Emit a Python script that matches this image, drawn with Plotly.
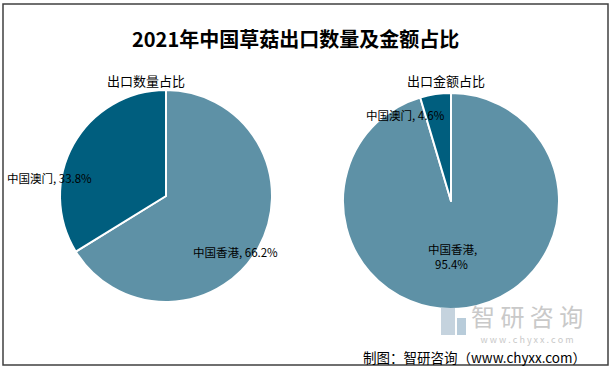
import plotly.graph_objects as go

W, H = 613, 370

categories = ["中国香港", "中国澳门"]
quantity_share = [66.2, 33.8]
amount_share = [95.4, 4.6]
chart_title = "2021年中国草菇出口数量及金额占比"
sub_titles = ["出口数量占比", "出口金额占比"]
source_text = "制图：智研咨询（www.chyxx.com）"

colors = ["#5E91A6", "#005E7E"]
FONT = "Noto Sans CJK SC"


def px(x):
    return x / W


def py(y):
    return 1 - y / H


fig = go.Figure()
fig.add_trace(go.Pie(
    labels=categories, values=quantity_share, sort=False, direction="clockwise",
    rotation=0, marker=dict(colors=colors, line=dict(color="white", width=2)),
    textinfo="none", hoverinfo="label+percent", showlegend=False,
    domain=dict(x=[px(60), px(272)], y=[py(302), py(90)]),
))
fig.add_trace(go.Pie(
    labels=categories, values=amount_share, sort=False, direction="clockwise",
    rotation=0, marker=dict(colors=colors, line=dict(color="white", width=2)),
    textinfo="none", hoverinfo="label+percent", showlegend=False,
    domain=dict(x=[px(343), px(559)], y=[py(309), py(93)]),
))

ann = []


def add_text(x, y, text, size, color="black", bold=False, family=FONT, **kw):
    t = f"<b>{text}</b>" if bold else text
    ann.append(dict(x=px(x), y=py(y), xref="paper", yref="paper", text=t,
                    showarrow=False, xanchor="center", yanchor="middle",
                    font=dict(family=family, size=size, color=color), **kw))


add_text(295, 38, chart_title, 20, bold=True)
add_text(146, 80, sub_titles[0], 13)
add_text(446, 80, sub_titles[1], 13)

# data labels
add_text(49, 178, f"{categories[1]}, {quantity_share[1]}%", 11.5)
add_text(235, 252, f"{categories[0]}, {quantity_share[0]}%", 11.5)
add_text(405, 115, f"{categories[1]}, {amount_share[1]}%", 11.5)
add_text(452, 249, f"{categories[0]},", 11.5)
add_text(451, 264, f"{amount_share[0]}%", 11.5)

# watermark (one block: name + url)
add_text(527, 322,
         "<span style='font-size:24px'>智 研 咨 询</span><br>"
         "<span style='font-size:9px'>w w w . c h y x x . c o m</span>",
         13, color="#C9C9C9", borderpad=0)

# source
add_text(474, 357, source_text, 13.5, borderpad=0)

shapes = [
    dict(type="rect", xref="paper", yref="paper", x0=px(3), x1=px(608), y0=py(365), y1=py(4),
         line=dict(color="#404040", width=1.5), fillcolor="rgba(0,0,0,0)"),
    # watermark icon
    dict(type="rect", xref="paper", yref="paper", x0=px(441), x1=px(455), y0=py(335), y1=py(308),
         line=dict(width=0), fillcolor="#C5D3DE"),
    dict(type="rect", xref="paper", yref="paper", x0=px(457), x1=px(466), y0=py(335), y1=py(318),
         line=dict(width=0), fillcolor="#B8CCDA"),
]

fig.update_layout(
    width=W, height=H, margin=dict(l=0, r=0, t=0, b=0),
    paper_bgcolor="white", plot_bgcolor="white",
    annotations=ann, shapes=shapes,
    font=dict(family=FONT),
)

fig.write_html("out.html", config={"displayModeBar": False},
               post_script="document.body.style.margin='0';document.body.style.padding='0';")
